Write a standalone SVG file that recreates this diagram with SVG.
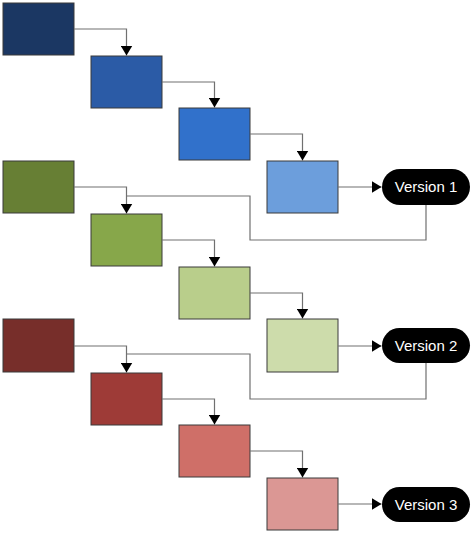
<svg xmlns="http://www.w3.org/2000/svg" width="474" height="535" viewBox="0 0 474 535">
<style>
.b{stroke:#3a3a3a;stroke-width:1}
.c{fill:none;stroke:#707070;stroke-width:1.2}
.a{marker-end:url(#ah)}
.p{fill:#000}
.t{font-family:"Liberation Sans",Arial,sans-serif;font-size:15px;fill:#fff;text-anchor:middle}
</style>
<defs>
<marker id="ah" markerWidth="12" markerHeight="12" refX="10" refY="6" orient="auto" markerUnits="userSpaceOnUse">
<path d="M0,0 L10,6 L0,12 Z" fill="#000"/>
</marker>
</defs>
<g id="blue1"><rect class="b" x="3" y="3" width="71" height="52" fill="#1b3763"/></g>
<g id="blue2"><rect class="b" x="91" y="56" width="71" height="52" fill="#2b5ba6"/></g>
<g id="blue3"><rect class="b" x="179" y="108" width="71" height="52" fill="#3171cb"/></g>
<g id="blue4"><rect class="b" x="267" y="161" width="71" height="52" fill="#6c9edc"/></g>
<g id="v1"><rect class="p" x="382" y="169" width="88" height="36" rx="18"/><text class="t" x="426" y="192">Version 1</text></g>
<g id="green1"><rect class="b" x="3" y="161" width="71" height="52" fill="#677f34"/></g>
<g id="green2"><rect class="b" x="91" y="214" width="71" height="52" fill="#87a74a"/></g>
<g id="green3"><rect class="b" x="179" y="267" width="71" height="52" fill="#b9ce8b"/></g>
<g id="green4"><rect class="b" x="267" y="319" width="71" height="53" fill="#cddcab"/></g>
<g id="v2"><rect class="p" x="382" y="328" width="88" height="35" rx="17.5"/><text class="t" x="426" y="351">Version 2</text></g>
<g id="red1"><rect class="b" x="3" y="319" width="71" height="53" fill="#772e2a"/></g>
<g id="red2"><rect class="b" x="91" y="373" width="71" height="52" fill="#9e3b37"/></g>
<g id="red3"><rect class="b" x="179" y="425" width="71" height="52" fill="#cf6f68"/></g>
<g id="red4"><rect class="b" x="267" y="478" width="71" height="52" fill="#db9794"/></g>
<g id="v3"><rect class="p" x="382" y="487" width="88" height="35" rx="17.5"/><text class="t" x="426" y="510">Version 3</text></g>
<g id="connectors">
<path class="c a" d="M74,29 H126.5 V55.5"/>
<path class="c a" d="M162,82 H214.5 V107.5"/>
<path class="c a" d="M250,134 H302.5 V160.5"/>
<path class="c a" d="M338,187 H381.5"/>
<path class="c" d="M426,205 V240 H250 V196 H126.5"/>
<path class="c a" d="M74,187 H126.5 V213.5"/>
<path class="c a" d="M162,240 H214.5 V266.5"/>
<path class="c a" d="M250,293 H302.5 V318.5"/>
<path class="c a" d="M338,346 H381.5"/>
<path class="c" d="M426,363 V399 H250 V354 H126.5"/>
<path class="c a" d="M74,346 H126.5 V372.5"/>
<path class="c a" d="M162,399 H214.5 V424.5"/>
<path class="c a" d="M250,451 H302.5 V477.5"/>
<path class="c a" d="M338,504 H381.5"/>
</g>
</svg>
